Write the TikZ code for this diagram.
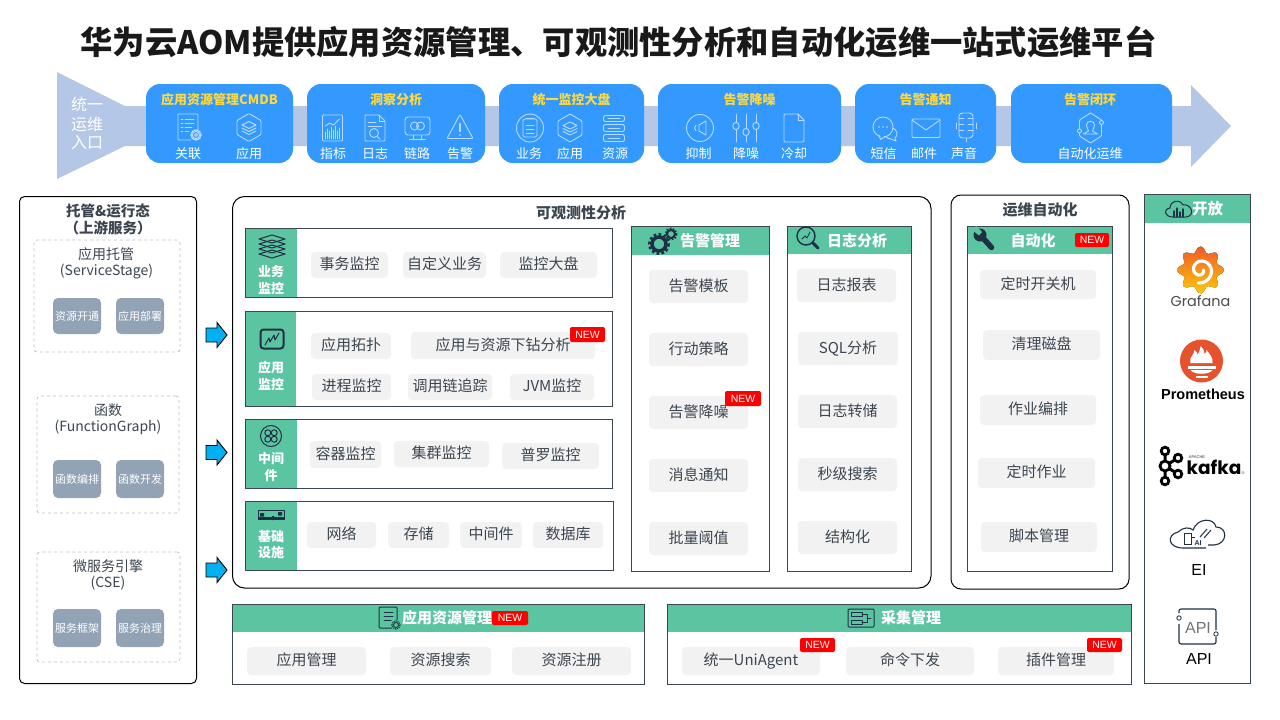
\documentclass[tikz,border=0pt]{standalone}
\usepackage{fontspec}
\setmainfont{Noto Sans CJK SC}
\newfontfamily\arialf{Liberation Sans}
\newfontfamily\popf{Poppins}
\usetikzlibrary{shadings}
\definecolor{gr}{HTML}{5BC4A0}
\definecolor{chipc}{HTML}{F2F2F2}
\definecolor{tx}{HTML}{3C4650}
\definecolor{dk}{HTML}{1F3044}
\definecolor{bl}{HTML}{3399FF}
\definecolor{band}{HTML}{B4C7E7}
\definecolor{yel}{HTML}{FFD93B}
\definecolor{iconc}{HTML}{BBDAFF}
\definecolor{gch}{HTML}{91A3B5}
\definecolor{arrc}{HTML}{00B0F0}
\definecolor{graft}{HTML}{F05A28}
\definecolor{grafb}{HTML}{FBCA0A}
\definecolor{promc}{HTML}{E6522C}
\newcommand{\fs}[1]{\fontsize{#1}{#1}\selectfont}
\newcommand{\bx}[7]{\node[#1,minimum width={(#5-#3)*1pt},minimum height={(#6-#4)*1pt}] (#2) at ({(#3+#5)/2},{(#4+#6)/2}) {#7};}
\tikzset{
 x=1pt,y=-1pt,
 basebox/.style={inner sep=0pt,outer sep=0pt,text height=.95em,text depth=.05em},
 chip/.style={basebox,fill=chipc,rounded corners=4,text=tx,font=\fs{15}},
 gchip/.style={basebox,fill=gch,rounded corners=5,text=white,font=\fs{11}},
 panel/.style={basebox,draw=tx,line width=1,fill=white},
 outerbox/.style={basebox,draw=black,line width=1,fill=white,rounded corners=#1},
 dashbox/.style={basebox,draw=black!25,line width=.8,dashed,rounded corners=3},
 headbox/.style={basebox,fill=gr},
 bluebox/.style={basebox,fill=bl,rounded corners=14},
 newb/.style={basebox,fill=red,rounded corners=2,text=white,font=\arialf\fs{10.5},text height=.72em,text depth=0pt},
 lab/.style={inner sep=0pt,outer sep=0pt,align=center},
 ttl/.style={lab,text=yel,font=\bfseries\fs{13}},
 subt/.style={lab,text=white,font=\fs{13}},
 hd/.style={lab,text=white,font=\bfseries\fs{15}},
 sidet/.style={lab,text=white,font=\bfseries\fs{13},yshift=-1pt},
 captxt/.style={lab,text=tx,font=\bfseries\fs{15}},
 notetxt/.style={lab,text=tx,font=\fs{14}},
 ic/.style={draw=iconc,line width=.9,line join=round,line cap=round},
 dkl/.style={draw=dk,line width=1,line join=round,line cap=round},
 bluearrow/.style={draw=black,line width=.9,fill=arrc},
 % light icons
 pics/ihex/.style={code={
  \draw[ic,rounded corners=1] (0,-14)--(12,-7)--(12,7)--(0,14)--(-12,7)--(-12,-7)--cycle;
  \draw[ic] (0,-6)--(7,-2.5)--(0,1)--(-7,-2.5)--cycle (-7,.5)--(0,4)--(7,.5) (-7,3.5)--(0,7)--(7,3.5);}},
 pics/idoc/.style={code={
  \draw[ic,rounded corners=1] (-10,-13)--(10,-13)--(10,7) (3,13)--(-10,13)--(-10,-13);
  \draw[ic] (-7,-8)--(-5,-8) (-3,-8)--(6,-8) (-7,-4)--(-5,-4) (-3,-4)--(6,-4) (-7,0)--(-5,0) (-3,0)--(4,0) (-7,4)--(-5,4) (-3,4)--(1,4);
  \draw[ic,line width=1.6,dash pattern=on 1.2 off 1.2] (8,8) circle (5);
  \draw[ic] (8,8) circle (3.6) (8,8) circle (1.5);}},
 pics/ichart/.style={code={
  \draw[ic,rounded corners=1] (-10,-13) rectangle (10,13);
  \draw[ic] (-7,-2)--(-3,-5)--(1,-3)--(7,-9);
  \foreach \a/\b in {-7/4,-5/1,-3/3,-1/-1,1/2,3/-2,5/3,7/0}{\draw[ic] (\a,11)--(\a,\b);}}},
 pics/ilog/.style={code={
  \draw[ic,rounded corners=1] (-10,-13)--(4,-13)--(10,-7)--(10,13)--(-10,13)--cycle;
  \draw[ic] (4,-13)--(4,-7)--(10,-7) (-7,-6)--(1,-6) (-7,-2)--(7,-2);
  \draw[ic] (-1,5) circle (4.5) (2,8.5)--(5,11);}},
 pics/imon/.style={code={
  \draw[ic,rounded corners=3] (-12.5,-10) rectangle (12.5,8);
  \draw[ic] (-3,-1) circle (4) (3,-1) circle (4);
  \draw[ic] (-8,12)--(8,12) (-4,8)--(-4,12) (4,8)--(4,12);}},
 pics/iwarn/.style={code={
  \draw[ic,rounded corners=1] (0,-13)--(13,11)--(-13,11)--cycle;
  \draw[ic,line width=1.3] (0,-4)--(0,4) (0,7.2)--(0,7.6);}},
 pics/iclip/.style={code={
  \draw[ic] (0,0) ellipse (13.5 and 14);
  \draw[ic,rounded corners=1.5] (-7,-9) rectangle (7,9);
  \draw[ic] (-4,-9.5)--(4,-9.5) (-4,-3)--(4,-3) (-4,1)--(4,1) (-4,5)--(4,5);}},
 pics/iserv/.style={code={
  \draw[ic,rounded corners=1.5] (-10.5,-13) rectangle (10.5,-7);
  \draw[ic,rounded corners=1.5] (-10.5,-4) rectangle (10.5,3);
  \draw[ic,rounded corners=1.5] (-10.5,6) rectangle (10.5,13);
  \draw[ic] (-6,-10)--(6,-10) (-6,-.5)--(6,-.5) (-6,9.5)--(6,9.5);}},
 pics/ispk/.style={code={
  \draw[ic] (0,0) circle (13.5);
  \draw[ic] (-1,-3)--(6,-7)--(6,7)--(-1,3)--cycle (-1,-3)--(-1,3);
  \draw[ic] (-4,-3)--(-5.5,0)--(-4,3);}},
 pics/islide/.style={code={
  \foreach \a/\b in {-10/-2,0/4,10/-2}{
   \draw[ic] (\a,-14)--(\a,14);
   \filldraw[ic,fill=bl] (\a,\b) ellipse (3.2 and 3.6);}}},
 pics/ifile/.style={code={
  \draw[ic,rounded corners=1.2] (-10,-14)--(4,-14)--(10,-8)--(10,14)--(-10,14)--cycle;
  \draw[ic] (4,-14)--(4,-8)--(10,-8);}},
 pics/ichat/.style={code={
  \draw[ic] (7,-1) .. controls (13,0) and (13,7) .. (10,9) -- (11,12) -- (6,10) .. controls (4,10) and (2,9) .. (0,7);
  \filldraw[ic,fill=bl] (-2,-2) circle (10);
  \filldraw[ic,fill=bl,draw=none] (-6,5) -- (-3,10) -- (0,6) -- cycle;
  \draw[ic] (-6,6.2) -- (-4.5,10.5) -- (0,7.8);
  \fill[iconc] (-6,-2) circle (.9) (-2,-2) circle (.9) (2,-2) circle (.9);}},
 pics/imail/.style={code={
  \draw[ic,rounded corners=1] (-14,-9) rectangle (14,9.5);
  \draw[ic] (-14,-8)--(0,2)--(14,-8);}},
 pics/imic/.style={code={
  \draw[ic,rounded corners=3.5] (-7,-14) rectangle (7,11);
  \draw[ic] (-7,-9)--(-2,-9) (2,-9)--(7,-9) (-7,-3)--(-2,-3) (2,-3)--(7,-3) (-7,3)--(-2,3) (2,3)--(7,3);
  \draw[ic] (0,11)--(0,15) (-10,-4)--(-10,2) (10,-4)--(10,2);}},
 pics/iper/.style={code={
  \draw[ic,rounded corners=1] (0,-15)--(11,-8) (11,-3)--(11,8)--(0,15)--(-11,8)--(-11,5) (-11,1)--(-11,-8)--(0,-15);
  \draw[ic] (11,-5.5) circle (2) (-11,3) circle (2);
  \draw[ic] (-2,3) .. controls (-3,0) and (-4,-1) .. (-4,-3) .. controls (-4,-8) and (4,-8) .. (4,-3) .. controls (4,-1) and (3,0) .. (2,3) -- (7,6) (-2,3)--(-7,6)--(7,6);}},
 % dark icons
 pics/dlay/.style={code={
  \foreach \d in {0,5,10,15}{\draw[dkl] (-13,{\d-8})--(0,{\d-12})--(13,{\d-8})--(0,{\d-4})--cycle;}}},
 pics/dmon/.style={code={
  \draw[dkl,line width=2,rounded corners=3] (-11.5,-9.5) rectangle (11.5,9.5);
  \draw[dkl] (-7,6)--(-3,-1)--(-2,3)--(2,-4)--(3,1)--(7,-6);}},
 pics/dmid/.style={code={
  \draw[dkl] (0,0) circle (10.5);
  \foreach \a/\b in {-3.2/-3.2,3.2/-3.2,-3.2/3.2,3.2/3.2}{\draw[dkl] (\a,\b) circle (3);}}},
 pics/drack/.style={code={
  \fill[dk] (-13.5,-5) rectangle (13.5,5);
  \fill[gr] (-12.5,-3.7) rectangle (12.5,1.5);
  \fill[dk] (-11,-2) rectangle (-7,1.5) (7,-3) rectangle (11,.5) (1,1) rectangle (3,5);}},
 pics/dgear/.style={code={
  \draw[dk,line width=3,dash pattern=on 2.6 off 2.3] (-5,3) circle (9.5);
  \draw[dk,line width=3.5] (-5,3) circle (7);
  \draw[dk,line width=2,dash pattern=on 1.6 off 1.4] (7,-7) circle (5.5);
  \draw[dk,line width=2] (7,-7) circle (4);}},
 pics/dsearch/.style={code={
  \draw[dkl,line width=1.4] (-2,-2) circle (9);
  \draw[dk,line width=3,line cap=round] (5,5)--(10,10);
  \draw[dkl,line width=.8] (-6,1)--(-3,-2)--(-1,0)--(2,-6);}},
 pics/dwr/.style={code={
  \draw[dk,line width=5.5,line cap=round] (-2,-2)--(6.5,7.5);
  \fill[dk] (-5,-5) circle (6.5);
  \fill[gr] (-9,-14)--(-3,-8)--(-6,-4.5)--(-13,-10)--cycle;}},
 pics/ddoc/.style={code={
  \draw[dkl,rounded corners=1] (-10,-11) rectangle (8,10);
  \fill[gr] (3,2) rectangle (12,13);
  \draw[dkl] (-5,-6)--(4,-6) (-5,-2)--(4,-2) (-5,2)--(2,2);
  \draw[dk,line width=1.4,dash pattern=on 1 off 1] (7,7) circle (4);
  \draw[dkl,line width=.8] (7,7) circle (2.5);}},
 pics/dcol/.style={code={
  \draw[dkl,rounded corners=1] (-13,-9) rectangle (13,9);
  \draw[dkl,line width=.8] (-10,-6) rectangle (1,-2) (-10,2) rectangle (1,6);
  \draw[dkl,line width=.8] (1,-4)--(6,-4)--(6,4)--(1,4) (6,0)--(10,0);}},
 pics/dcloud/.style={code={
  \draw[dkl] (-6,8) .. controls (-15,8) and (-16,0) .. (-9,-1) .. controls (-9,-8) and (0,-11) .. (4,-4) .. controls (12,-6) and (17,7) .. (7,8) -- cycle;
  \draw[dkl,line width=1.2] (-5,8)--(-5,2) (-2,8)--(-2,-1) (1,8)--(1,3) (4,8)--(4,0);}},
}
\begin{document}
\begin{tikzpicture}
\useasboundingbox (0,0) rectangle (1280,720);
\fill[white] (0,0) rectangle (1280,720);
\node[lab,font=\bfseries\fs{32.3},text=black!90] (title) at (618.5,42) {华为云AOM提供应用资源管理、可观测性分析和自动化运维一站式运维平台};

% top arrow band
\fill[band] (57,72)--(125,106)--(1191,106)--(1191,85)--(1231,126)--(1191,167)--(1191,146)--(125,146)--(57,179)--cycle;
\node[lab,font=\fs{16},text=white,align=center] (entry1) at (87,104) {统一};
\node[lab,font=\fs{16},text=white,align=center] (entry2) at (87,124) {运维};
\node[lab,font=\fs{16},text=white,align=center] (entry3) at (87,143) {入口};

\bx{bluebox}{b1}{146}{84}{293}{163}{}
\bx{bluebox}{b2}{307}{84}{485}{163}{}
\bx{bluebox}{b3}{499}{84}{644}{163}{}
\bx{bluebox}{b4}{658}{84}{841}{163}{}
\bx{bluebox}{b5}{855}{84}{996}{163}{}
\bx{bluebox}{b6}{1011}{84}{1172}{163}{}
\node[ttl] (t1) at (219.5,99.5) {应用资源管理CMDB};
\node[ttl] (t2) at (396,99.5) {洞察分析};
\node[ttl] (t3) at (571.5,99.5) {统一监控大盘};
\node[ttl] (t4) at (749.5,99.5) {告警降噪};
\node[ttl] (t5) at (925.5,99.5) {告警通知};
\node[ttl] (t6) at (1090,99.5) {告警闭环};

\pic (p1) at (188,127) {idoc};
\pic (p2) at (249,127.5) {ihex};
\pic (p3) at (332.5,128) {ichart};
\pic (p4) at (375,128) {ilog};
\pic (p5) at (417.5,127) {imon};
\pic (p6) at (460,127.5) {iwarn};
\pic (p7) at (530,128) {iclip};
\pic (p8) at (570,128) {ihex};
\pic (p9) at (614,128.5) {iserv};
\pic (p10) at (700,128) {ispk};
\pic (p11) at (746,128) {islide};
\pic (p12) at (794,128) {ifile};
\pic (p13) at (885,129) {ichat};
\pic (p14) at (926,128) {imail};
\pic (p15) at (966,127) {imic};
\pic (p16) at (1090.5,128) {iper};
\foreach \n/\a/\t in {a/188/关联,c/249/应用,d/333/指标,e/375/日志,f/417/链路,g/460/告警,h/529/业务,i/570/应用,j/615/资源,k/698.5/抑制,l/746/降噪,m/794/冷却,n/883.5/短信,o/924/邮件,q/964/声音,r/1090/自动化运维}{
 \node[subt] (s\n) at (\a,153.5) {\t};}

% left panel
\bx{outerbox=5}{leftp}{19.5}{196.5}{196.5}{683.5}{}
\node[captxt,font=\bfseries\fs{14.5}] (leftt1) at (108,211) {托管\&运行态};
\node[captxt,font=\bfseries\fs{14.5}] (leftt2) at (108,228) {（上游服务）};
\bx{dashbox}{d1}{34}{240}{180}{352}{}
\bx{dashbox}{d2}{37}{396}{179}{513}{}
\bx{dashbox}{d3}{37}{552}{180}{662}{}
\node[notetxt] (n1a) at (106,254) {应用托管};
\node[notetxt] (n1b) at (106.5,271.5) {(ServiceStage)};
\node[notetxt] (n2a) at (108,410) {函数};
\node[notetxt] (n2b) at (108,427.5) {(FunctionGraph)};
\node[notetxt] (n3a) at (108,566) {微服务引擎};
\node[notetxt] (n3b) at (108,583.5) {(CSE)};
\bx{gchip}{g1}{53}{298}{101}{334}{资源开通}
\bx{gchip}{g2}{116}{298}{164}{334}{应用部署}
\bx{gchip}{g3}{53}{460}{101}{498}{函数编排}
\bx{gchip}{g4}{116}{460}{164}{498}{函数开发}
\bx{gchip}{g5}{53}{609}{101}{647}{服务框架}
\bx{gchip}{g6}{116}{609}{164}{647}{服务治理}

% blue arrows
\foreach \c in {335,452.5,570}{
 \draw[bluearrow] (206,\c-7)--(217,\c-7)--(217,\c-12.5)--(227,\c)--(217,\c+12.5)--(217,\c+7)--(206,\c+7)--cycle;}

% observability
\bx{outerbox=12}{obs}{232.5}{196.5}{931}{588}{}
\node[captxt] (obst) at (581,212.5) {可观测性分析};
\bx{panel}{r1}{245.5}{228.5}{612.5}{297.5}{}
\bx{panel}{r2}{245.5}{311.5}{612.5}{406}{}
\bx{panel}{r3}{245.5}{419.5}{612.5}{488.5}{}
\bx{panel}{r4}{245.5}{501.5}{613.5}{570.5}{}
\bx{headbox}{h1}{246}{229}{297}{297}{}
\bx{headbox}{h2}{246}{312}{296}{405.5}{}
\bx{headbox}{h3}{246}{420}{297}{488}{}
\bx{headbox}{h4}{246}{502}{297}{570}{}
\pic (i1) at (272,247) {dlay};
\pic (i2) at (272,339) {dmon};
\pic (i3) at (271,436) {dmid};
\pic (i4) at (271,515) {drack};
\node[sidet] (l1a) at (271,271) {业务};
\node[sidet] (l1b) at (271,287) {监控};
\node[sidet] (l2a) at (271,367) {应用};
\node[sidet] (l2b) at (271,383) {监控};
\node[sidet] (l3a) at (271,458) {中间};
\node[sidet] (l3b) at (271,475) {件};
\node[sidet] (l4a) at (271,536) {基础};
\node[sidet] (l4b) at (271,552) {设施};
\bx{chip}{c1}{311}{252}{388}{278}{事务监控}
\bx{chip}{c2}{403}{252}{486}{278}{自定义业务}
\bx{chip}{c3}{500}{252}{597}{278}{监控大盘}
\bx{chip}{c4}{311}{333}{391}{359}{应用拓扑}
\bx{chip}{c5}{411}{332}{595}{359}{应用与资源下钻分析}
\bx{chip}{c6}{312}{374}{391}{400}{进程监控}
\bx{chip}{c7}{408}{374}{492}{400}{调用链追踪}
\bx{chip}{c8}{510}{374}{594}{400}{JVM监控}
\bx{chip}{c9}{310}{441}{381}{468}{容器监控}
\bx{chip}{c10}{394}{441}{489}{467}{集群监控}
\bx{chip}{c11}{502}{443}{599}{469}{普罗监控}
\bx{chip}{c12}{307}{522}{376}{548}{网络}
\bx{chip}{c13}{388}{522}{449}{548}{存储}
\bx{chip}{c14}{460}{522}{522}{548}{中间件}
\bx{chip}{c15}{533}{522}{603}{548}{数据库}
\bx{newb}{nw1}{570}{327}{605}{342}{NEW}

% alerts and logs
\bx{panel}{al}{631.5}{226.5}{769.5}{571}{}
\bx{headbox}{alh}{632}{227}{769}{255}{}
\bx{panel}{lg}{787.5}{226.5}{911.5}{571}{}
\bx{headbox}{lgh}{788}{227}{911}{254}{}
\pic (i5) at (664,241) {dgear};
\pic (i6) at (808,238) {dsearch};
\node[hd] (alt) at (710,240.5) {告警管理};
\node[hd] (lgt) at (857,240.5) {日志分析};
\bx{chip}{a1}{649}{270}{748}{303}{告警模板}
\bx{chip}{a2}{649}{333}{748}{366}{行动策略}
\bx{chip}{a3}{649}{396}{748}{429}{告警降噪}
\bx{chip}{a4}{649}{459}{748}{492}{消息通知}
\bx{chip}{a5}{649}{522}{748}{555}{批量阈值}
\bx{newb}{nw2}{725}{391}{761}{406}{NEW}
\bx{chip}{g7}{797}{269}{896}{302}{日志报表}
\bx{chip}{g8}{798}{332}{898}{365}{SQL分析}
\bx{chip}{g9}{798}{395}{897}{428}{日志转储}
\bx{chip}{g10}{798}{458}{897}{491}{秒级搜索}
\bx{chip}{g11}{798}{521}{897}{554}{结构化}

% automation
\bx{outerbox=10}{auto}{951}{195}{1129}{589}{}
\node[captxt] (autot) at (1040,210) {运维自动化};
\bx{panel}{ap}{967.5}{226.5}{1112}{571}{}
\bx{headbox}{aph}{968}{227}{1111.5}{254}{}
\pic (i7) at (985,240) {dwr};
\node[hd] (apt) at (1033,240.5) {自动化};
\bx{newb}{nw3}{1075}{233}{1109}{247}{NEW}
\bx{chip}{u1}{980}{270}{1096}{299}{定时开关机}
\bx{chip}{u2}{983}{330}{1100}{360}{清理磁盘}
\bx{chip}{u3}{980}{395}{1096}{425}{作业编排}
\bx{chip}{u4}{978}{458}{1095}{488}{定时作业}
\bx{chip}{u5}{981}{522}{1097}{552}{脚本管理}

% bottom
\bx{panel}{bl1}{232.5}{604.5}{644}{684}{}
\bx{headbox}{bl1h}{233}{605}{643.5}{632}{}
\bx{panel}{bl2}{667.5}{604.5}{1131}{684}{}
\bx{headbox}{bl2h}{668}{605}{1130.5}{632}{}
\pic (i8) at (389,618) {ddoc};
\pic (i9) at (861,618) {dcol};
\node[hd] (bt1) at (447,618) {应用资源管理};
\node[hd] (bt2) at (911,618) {采集管理};
\bx{chip}{k1}{247}{647}{366}{675}{应用管理}
\bx{chip}{k2}{390}{647}{491}{675}{资源搜索}
\bx{chip}{k3}{512}{647}{631}{675}{资源注册}
\bx{chip}{k4}{682}{647}{820}{675}{统一UniAgent}
\bx{chip}{k5}{846}{647}{974}{675}{命令下发}
\bx{chip}{k6}{998}{647}{1114}{675}{插件管理}
\bx{newb}{nw4}{492}{611}{528}{625}{NEW}
\bx{newb}{nw5}{800}{638}{835}{652}{NEW}
\bx{newb}{nw6}{1087}{638}{1122}{652}{NEW}

% open panel
\bx{panel}{op}{1144.5}{194.5}{1250.5}{683.5}{}
\bx{headbox}{oph}{1145}{195}{1250}{222.5}{}
\pic (i10) at (1179,209) {dcloud};
\node[hd,font=\bfseries\fs{15.5}] (opt) at (1207.5,208.5) {开放};
% grafana
\begin{scope}[shift={(1200.5,270)}]
 \fill[top color=graft,bottom color=grafb,shading=axis] plot[smooth cycle,domain=0:352,samples=45] ({(20.5+3*cos(8*\x))*cos(\x)},{(20.5+3*cos(8*\x))*sin(\x)});
 \draw[white,line width=3.2,line cap=round] plot[domain=60:520,samples=60,smooth] ({(1.5+\x/45)*cos(\x-60)},{(1.5+\x/45)*sin(\x-60)});
\end{scope}
\node[lab,font=\popf\fs{14.4},text=black!70] (graf) at (1200.5,301) {Grafana};
% prometheus
\fill[promc] (1201.5,361) circle (21.5);
\begin{scope}[shift={(1201.5,361)}]
 \fill[white] (-11,2) .. controls (-13,-4) and (-7,-6) .. (-7,-11) .. controls (-5,-9) and (-4,-8) .. (-4,-6) .. controls (-3,-9) and (-1,-11) .. (-1,-15) .. controls (2,-12) and (3,-10) .. (3,-7) .. controls (5,-8) and (5,-10) .. (5,-11) .. controls (8,-7) and (12,-3) .. (11,2) -- cycle;
 \fill[white] (-14,5) rectangle (14,8);
 \fill[white] (-11,9) .. controls (-8,14) and (8,14) .. (11,9) -- cycle;
 \fill[white] (-6,15) rectangle (6,16.5);
\end{scope}
\node[lab,font=\arialf\bfseries\fs{14.5},text=black] (prom) at (1203,394) {Prometheus};
% kafka
\draw[black,line width=3] (1165,451)--(1165,481) (1165,466)--(1178,458) (1165,466)--(1178,474);
\foreach \a/\b/\r in {1165/451/3.8,1165/481/3.8,1178/458/3.8,1178/474/3.8,1165/466/5}{\filldraw[fill=white,draw=black,line width=2.8] (\a,\b) circle (\r);}
\node[lab,font=\popf\bfseries\fs{18.5},text=black] (kaf) at (1214,467.5) {kafka};
\node[lab,font=\arialf\fs{4},text=black!80] (apa) at (1197,457.5) {APACHE};
\node[lab,font=\arialf\fs{4},text=black!70] (reg) at (1243,473.5) {®};
% EI
\draw[dk,line width=1.1] (1183,548) .. controls (1168,548) and (1166,535) .. (1178,532) .. controls (1183,527) and (1190,527) .. (1193,530) .. controls (1197,518) and (1214,517) .. (1216,527) .. controls (1228,527) and (1228,544) .. (1214,545) -- (1208,545) (1183,548)--(1206,548);
\draw[dk,line width=.9] (1184,544) rectangle (1191,533) (1191,544)--(1191,537)--(1195,537);
\node[lab,font=\arialf\bfseries\fs{7},text=dk] (ai) at (1198,543) {AI};
\draw[dk,line width=1] (1200,537)--(1207,529) (1204,538)--(1211,530);
\node[lab,font=\arialf\fs{16},text=black] (ei) at (1199,570) {EI};
% API
\draw[dk,line width=1.1,rounded corners=2] (1179,613)--(1179,609)--(1216,609)--(1216,630);
\draw[dk,line width=1.1,rounded corners=2] (1179,624)--(1179,644)--(1216,644)--(1216,637);
\filldraw[fill=white,draw=dk,line width=.8] (1179,618) circle (2.2) (1216,634) circle (2.2);
\node[lab,font=\arialf\fs{16},text=black!55] (apii) at (1198,628) {API};
\node[lab,font=\arialf\fs{16},text=black] (api) at (1199,659) {API};
\end{tikzpicture}
\end{document}
